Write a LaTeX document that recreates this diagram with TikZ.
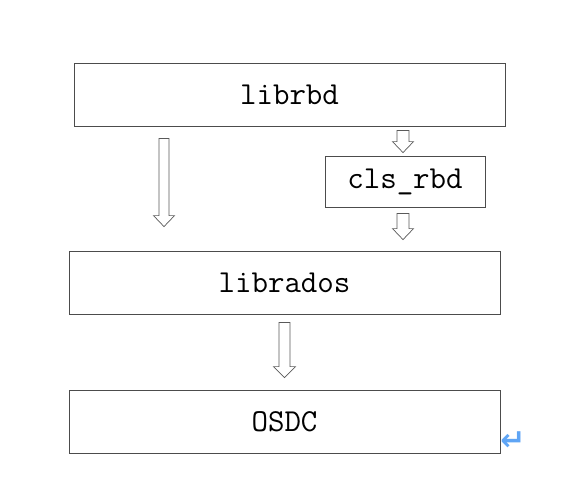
\documentclass[tikz,border=0pt]{standalone}
\usepackage{fontspec}
\newfontfamily\symfont{DejaVu Sans}
\usetikzlibrary{calc}
\definecolor{retblue}{RGB}{95,165,245}
\tikzset{
  layer/.style={draw=black!70, line width=0.8pt, inner sep=0pt, font=\ttfamily\fontsize{32}{34}\selectfont},
  wide/.style={layer, minimum width=431pt, minimum height=63pt},
  arrowline/.style={draw=black!65, line width=0.7pt}
}
% hollow block arrow: top, tip, shaft half width, head half width
\newcommand{\hollowarrow}[4]{%
  \draw[arrowline] ($(#1)+(-#3,0)$) -- ($(#2)+(-#3,-11)$) -- ($(#2)+(-#4,-11)$)
    -- (#2) -- ($(#2)+(#4,-11)$) -- ($(#2)+(#3,-11)$) -- ($(#1)+(#3,0)$) -- cycle;}

\begin{document}
\begin{tikzpicture}[x=1pt,y=-1pt]
    \useasboundingbox (0,0) rectangle (572,490);
    \node[wide] (librbd) at (289.5,94.5) {librbd};
    \node[layer, minimum width=160pt, minimum height=51pt] (clsrbd) at (405,181.5) {cls\_rbd};
    \node[wide] (librados) at (284.5,282.5) {librados};
    \node[wide] (osdc) at (284.5,421.5) {OSDC};
    \node[text=retblue, font=\symfont\bfseries\fontsize{30}{32}\selectfont, inner sep=0pt] (ret) at (513,441) {↵};
    \coordinate (xl) at (164,0);
    \coordinate (xr) at (403,0);
    \coordinate (a1t) at ($(librbd.south -| xl)+(0,12)$);
    \coordinate (a1h) at ($(librados.north -| xl)+(0,-24)$);
    \coordinate (a2t) at ($(librbd.south -| xr)+(0,4)$);
    \coordinate (a2h) at ($(clsrbd.north -| xr)+(0,-3)$);
    \coordinate (a3t) at ($(clsrbd.south -| xr)+(0,6)$);
    \coordinate (a3h) at ($(librados.north -| xr)+(0,-11)$);
    \coordinate (a4t) at ($(librados.south)+(0,8)$);
    \coordinate (a4h) at ($(osdc.north)+(0,-12)$);
    \hollowarrow{a1t}{a1h}{5}{10.5}
    \hollowarrow{a2t}{a2h}{6}{10.5}
    \hollowarrow{a3t}{a3h}{6}{10.5}
    \hollowarrow{a4t}{a4h}{5.5}{11}
\end{tikzpicture}
\end{document}
